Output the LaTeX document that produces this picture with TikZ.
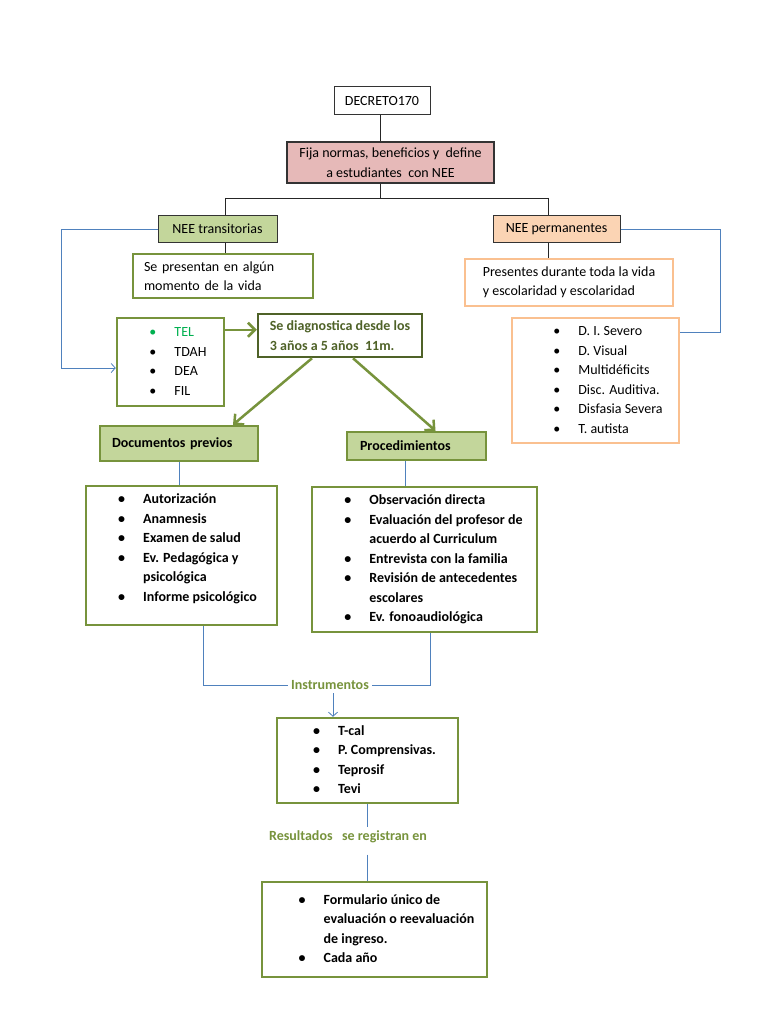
\documentclass[tikz,border=0pt]{standalone}
\usepackage{fontspec}
\setmainfont{Carlito}
\usetikzlibrary{positioning,arrows.meta}

\definecolor{verde}{HTML}{77933C}
\definecolor{verdeosc}{HTML}{4F6228}
\definecolor{verdeclaro}{HTML}{C3D69B}
\definecolor{verdetel}{HTML}{00B050}
\definecolor{rosa}{HTML}{E6B9B8}
\definecolor{durazno}{HTML}{FAC090}
\definecolor{duraznoclaro}{HTML}{FBD4B4}
\definecolor{azul}{HTML}{4F81BD}

\newcommand{\letra}{\fontsize{14}{19.5}\selectfont}
\newcommand{\bul}{\makebox[25pt][l]{\textbullet}}

\begin{document}
\begin{tikzpicture}[x=1pt,y=-1pt,font=\letra]
        \tikzstyle{titulo}=[draw=black!80,line width=1pt,inner sep=0pt]
        \tikzstyle{lista}=[draw=verde,line width=2.5pt,fill=white,inner sep=0pt]
        \tikzstyle{listad}=[draw=durazno,line width=2.5pt,fill=white,inner sep=0pt]
        \tikzstyle{encab}=[draw=verde,line width=2.5pt,fill=verdeclaro,inner sep=0pt,font=\letra\bfseries]
        \tikzstyle{tree}=[draw=black!85,line width=0.8pt]
        \tikzstyle{conector}=[draw=azul,line width=0.8pt]
        \tikzstyle{punta}=[-{Straight Barb[length=4pt,width=9pt]}]
        \tikzstyle{flecha}=[draw=verde,line width=2.5pt,-{Straight Barb[length=7pt,width=14pt]}]
        \tikzstyle{etiq}=[text=verde,font=\letra\bfseries]

        \path[fill=white] (0,0) rectangle (768,1024);

        % arriba
        \node [titulo,fill=white,minimum width=96,minimum height=28] (dec) at (382,101) {DECRETO170};
        \node [titulo,fill=rosa,line width=1.2pt,minimum width=207,minimum height=41,align=center] (fija) at (390.5,162.5) {Fija normas, beneficios y\ \ define\\a estudiantes\ \ con NEE};
        \node [titulo,fill=verdeclaro,minimum width=119,minimum height=26] (trans) at (217.5,229) {NEE transitorias};
        \node [titulo,fill=duraznoclaro,minimum width=127,minimum height=26] (perm) at (556.5,229) {NEE permanentes};

        \coordinate (cen) at (380,198);
        \coordinate (izq) at (225,198);
        \coordinate (der) at (548,198);

        % transitorias
        \node [lista,minimum width=180,minimum height=44,text width=158,align=left] (pres) at (223,276) {Se presentan en algún\\momento de la vida};
        \node [lista,minimum width=107,minimum height=88] (tel) at (170.5,362) {\begin{tabular}{@{\hspace{15pt}}l@{}l@{}}
            \textcolor{verdetel}{\bul} & \textcolor{verdetel}{TEL}\\
            \bul & TDAH\\
            \bul & DEA\\
            \bul & FIL
          \end{tabular}};
        \node [lista,draw=verdeosc,minimum width=164,minimum height=43,align=left,text=verdeosc,font=\letra\bfseries] (diag) at (340,335.5) {Se diagnostica desde los\\3 años a 5 años\ \ 11m.};

        % permanentes
        \node [listad,minimum width=208,minimum height=47,align=left] (dur) at (569,282.5) {Presentes durante toda la vida\\y escolaridad y escolaridad};
        \node [listad,minimum width=167,minimum height=125] (perml) at (595.5,380.5) {\begin{tabular}{@{\hspace{25pt}}l@{}l@{}}
            \bul & D. I. Severo\\
            \bul & D. Visual\\
            \bul & Multidéficits\\
            \bul & Disc. Auditiva.\\
            \bul & Disfasia Severa\\
            \bul & T. autista
          \end{tabular}};

        % diagnostico
        \node [encab,minimum width=158,minimum height=35,text width=134,align=left] (docp) at (179,443.5) {Documentos previos};
        \node [encab,minimum width=139,minimum height=28,text width=113,align=left] (procp) at (416.5,446) {Procedimientos};
        \node [lista,minimum width=191,minimum height=139,font=\letra\bfseries] (docl) at (181.5,555.5) {\begin{tabular}{@{\hspace{12pt}}l@{}l@{}}
            \bul & Autorización\\
            \bul & Anamnesis\\
            \bul & Examen de salud\\
            \bul & Ev. Pedagógica y\\
                 & psicológica\\
            \bul & Informe psicológico\\[14pt]
          \end{tabular}};
        \node [lista,minimum width=225,minimum height=145,font=\letra\bfseries] (procl) at (424.5,559.5) {\begin{tabular}{@{\hspace{18pt}}l@{}l@{}}
            \bul & Observación directa\\
            \bul & Evaluación del profesor de\\
                 & acuerdo al Curriculum\\
            \bul & Entrevista con la familia\\
            \bul & Revisión de antecedentes\\
                 & escolares\\
            \bul & Ev. fonoaudiológica
          \end{tabular}};

        % abajo
        \node [etiq] (instr) at (330,685) {Instrumentos};
        \node [lista,minimum width=181,minimum height=85,font=\letra\bfseries] (tcal) at (367.5,760.5) {\begin{tabular}{@{\hspace{14pt}}l@{}l@{}}
            \bul & T-cal\\
            \bul & P. Comprensivas.\\
            \bul & Teprosif\\
            \bul & Tevi
          \end{tabular}};
        \node [etiq] (res) at (348,837) {Resultados\ \ \ se registran en};
        \node [lista,minimum width=225,minimum height=95,font=\letra\bfseries] (form) at (374.5,929.5) {\begin{tabular}{@{\hspace{24pt}}l@{}l@{}}
            \bul & Formulario único de\\
                 & evaluación o reevaluación\\
                 & de ingreso.\\
            \bul & Cada año
          \end{tabular}};

        % lineas negras
        \draw[tree] (cen |- dec.south) -- (cen |- fija.north);
        \draw[tree] (cen |- fija.south) -- (cen);
        \draw[tree] (izq) -- (der);
        \draw[tree] (izq) -- (izq |- trans.north);
        \draw[tree] (der) -- (der |- perm.north);
        \draw[tree] (izq |- trans.south) -- (izq |- pres.north);
        \draw[tree] (der |- perm.south) -- (der |- dur.north);

        % conectores azules
        \draw[conector,punta] (trans.west) -- ++(-96,0) |- ([yshift=-6pt]tel.west);
        \draw[conector] (perm.east) -- ++(100,0) |- ([yshift=-16pt]perml.north east);

        % flechas verdes
        \coordinate (t1) at ([yshift=-13pt]tel.north east);
        \draw[flecha] (t1) -- (t1 -| diag.west);
        \draw[flecha] ([xshift=-28pt]diag.south) -- ([xshift=54pt]docp.north);
        \draw[flecha] ([xshift=13pt]diag.south) -- ([xshift=19pt]procp.north);

        \coordinate (p1) at ([xshift=-11pt]procp.south);
        \draw[conector] (docp.south) -- (docp.south |- docl.north);
        \draw[conector] (p1) -- (p1 |- procl.north);
        \draw[conector] ([xshift=22pt]docl.south) |- (instr.west);
        \draw[conector] ([xshift=6pt]procl.south) |- (instr.east);
        \coordinate (i1) at ([xshift=3pt]instr.south);
        \draw[conector,punta] (i1) -- (i1 |- tcal.north);

        \coordinate (r2) at ([yshift=-8pt]res.south);
        \draw[conector] (tcal.south) -- (tcal.south |- res.north);
        \draw[conector] (r2 -| tcal.south) -- (tcal.south |- form.north);
\end{tikzpicture}
\end{document}
